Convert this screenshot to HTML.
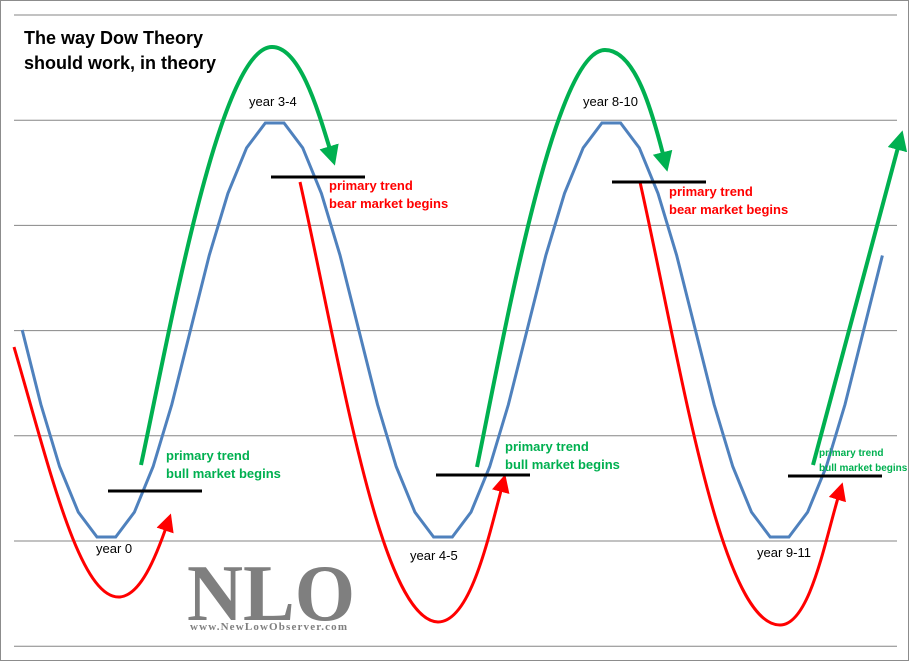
<!DOCTYPE html>
<html><head><meta charset="utf-8"><style>
body{margin:0;background:#fff}
svg{display:block;font-family:"Liberation Sans",sans-serif}
</style></head><body>
<svg id="chart" width="911" height="662" viewBox="0 0 911 662" xmlns="http://www.w3.org/2000/svg">
<rect x="0.5" y="0.5" width="908" height="660" fill="#fff" stroke="#8c8c8c"/>
<g id="grid"></g>
<defs>
<marker id="ar" markerWidth="6" markerHeight="6" refX="3" refY="3" orient="auto" markerUnits="strokeWidth"><path d="M0,0 L6,3 L0,6 z" fill="red"/></marker>
<marker id="ag" markerWidth="5" markerHeight="5" refX="2.5" refY="2.5" orient="auto" markerUnits="strokeWidth"><path d="M0,0 L5,2.5 L0,5 z" fill="#00b050"/></marker>
</defs>
<text x="24" y="44" font-size="18" font-weight="bold">The way Dow Theory</text>
<text x="24" y="69" font-size="18" font-weight="bold">should work, in theory</text>
<g fill="none" stroke="red" stroke-width="3">
<path d="M14,347 C50,470 80,600 120,597 C140,595 155,560 168,522" marker-end="url(#ar)"/>
<path d="M300,182 C340,360 380,620 438,622 C470,622 488,540 503,483" marker-end="url(#ar)"/>
<path d="M640,182 C680,360 720,625 780,625 C810,625 825,540 840,491" marker-end="url(#ar)"/>
</g>
<g fill="none" stroke="#00b050" stroke-width="4">
<path d="M141,465 C170,330 220,47 272,47 C300,47 318,110 332,156" marker-end="url(#ag)"/>
<path d="M477,467 C505,330 555,50 605,50 C635,50 652,110 665,162" marker-end="url(#ag)"/>
<path d="M813,465 L900,140" marker-end="url(#ag)"/>
</g>
<polyline id="blue" fill="none" stroke="#4f81bd" stroke-width="3"/>
<g stroke="#000" stroke-width="3">
<line x1="108" y1="491" x2="202" y2="491"/><line x1="271" y1="177" x2="365" y2="177"/>
<line x1="436" y1="475" x2="530" y2="475"/><line x1="612" y1="182" x2="706" y2="182"/>
<line x1="788" y1="476" x2="882" y2="476"/>
</g>
<g font-size="13">
<text x="96" y="553">year 0</text><text x="249" y="106">year 3-4</text>
<text x="410" y="560">year 4-5</text><text x="583" y="106">year 8-10</text>
<text x="757" y="557">year 9-11</text>
</g>
<g font-size="13" font-weight="bold" fill="red">
<text x="329" y="190">primary trend</text><text x="329" y="208">bear market begins</text>
<text x="669" y="196">primary trend</text><text x="669" y="214">bear market begins</text>
</g>
<g font-size="13" font-weight="bold" fill="#00b050">
<text x="166" y="460">primary trend</text><text x="166" y="478">bull market begins</text>
<text x="505" y="451">primary trend</text><text x="505" y="469">bull market begins</text>
<text x="819" y="456" font-size="10">primary trend</text><text x="819" y="471" font-size="10">bull market begins</text>
</g>
<text x="187" y="620" font-family="Liberation Serif,serif" font-size="80" font-weight="bold" fill="#7f7f7f" textLength="168" lengthAdjust="spacingAndGlyphs">NLO</text>
<text x="190" y="630" font-family="Liberation Serif,serif" font-size="11" font-weight="bold" fill="#7f7f7f" textLength="157">www.NewLowObserver.com</text>
</svg>
<script>
const gridValues=[0,1,2,3,4,5,6];
const cycleValues=[50,32,17,6,0,0,6,17,32,50,68,83,94,100,100,94,83,68,50,32,17,6,0,0,6,17,32,50,68,83,94,100,100,94,83,68,50,32,17,6,0,0,6,17,32,50,68];
const x0=22.2, step=18.7;
const yv=v=>537-v*4.14;
const g=document.getElementById('grid');
gridValues.forEach(k=>{
const l=document.createElementNS('http://www.w3.org/2000/svg','line');
const y=15+k*105.2;
l.setAttribute('x1',14);l.setAttribute('x2',897);l.setAttribute('y1',y);l.setAttribute('y2',y);
l.setAttribute('stroke','#868686');l.setAttribute('stroke-width','1');


g.appendChild(l);});
document.getElementById('blue').setAttribute('points',cycleValues.map((v,i)=>(x0+i*step)+','+yv(v)).join(' '));
</script>
</body></html>
